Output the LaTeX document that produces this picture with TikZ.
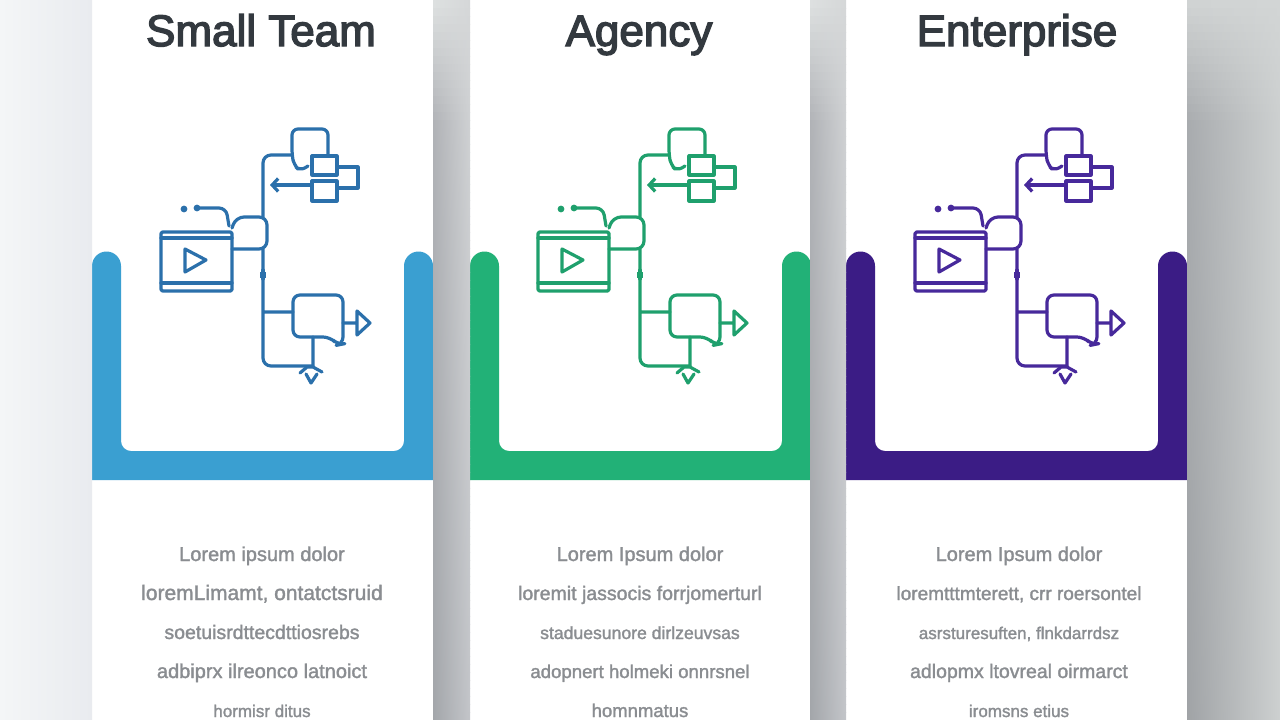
\documentclass[tikz,border=0pt]{standalone}
\usepackage{fontspec}
\setmainfont{Liberation Sans}
\usepackage{tikz}
\usetikzlibrary{arrows.meta}
\newcommand{\myicon}[2]{
\begin{scope}[xshift=#1,#2,draw=#2,iconline]
% screen
\draw[rounded corners=1.5]
(161,232) rectangle (232,291);
\draw
(161,238) -- (232,238)
(161,283) -- (232,283);
\draw
(185,249) -- (206,260) -- (185,272) -- cycle;
% top speech box and blocks
\draw[rounded corners=6]
(308,166) -- (300,171) -- (294,165) -- (292,155) -- (292,129) -- (328,129) -- (328,156);
\draw
(312,156) rectangle (337,175)
(312,181) rectangle (337,201)
(337,167) -- (358,167) -- (358,188) -- (337,188);
% trunk and loop
\draw[rounded corners=8]
(292,155) -- (263,155) -- (263,217)
(232,228) -- (236,217) -- (267,217) -- (267,249) -- (232,249)
(263,249) -- (263,366) -- (313,366)
(263,312) -- (293,312);
\draw[-{Straight Barb[length=6,width=13]}] (312,185) -- (270,185);
\draw[rounded corners=7]
(229,226) -- (226,208) -- (198,208);
\fill (197,208) circle (3.4) (184,209) circle (3.4);
\draw (263,270) -- (263,279);
\fill (260,272) rectangle (266,278);
% lower speech box
\draw[rounded corners=7]
(293,295) -- (343,295) -- (343,344) -- (338,345) -- (330,337) -- (293,337) -- cycle;
\draw
(343,323) -- (357,323)
(357,311) -- (370,323) -- (357,335) -- cycle
(313,337) -- (313,366)
(300,373) -- (307,367) -- (313,367) -- (322,372)
(306,374) -- (311,383) -- (317,374);
\end{scope}
}
\newcommand{\mypanel}[2]{
\begin{scope}[xshift=#1]
\fill[white] (92,0) rectangle (433,720);
\fill[#2] (92,480) -- (92,266) arc (180:360:14.5) -- (121,441) arc (180:90:10)
-- (394,451) arc (90:0:10) -- (404,266) arc (180:360:14.5) -- (433,480) -- cycle;
\end{scope}
}
% backdrop strip from x #1 to x #2, cut into slices; #3 names its colours
\newcommand{\mystrip}[3]{
\foreach \k in {0,...,14} {
\pgfmathsetmacro{\p}{\k*100/15}
\shade[left color=#3d!\p!#3a,middle color=#3e!\p!#3b,right color=#3f!\p!#3c]
(#1,\k*8) rectangle (#2,\k*8+8.4);
}
\foreach \k in {15,...,89} {
\pgfmathsetmacro{\p}{(\k-15)*100/75}
\shade[left color=#3g!\p!#3d,middle color=#3h!\p!#3e,right color=#3i!\p!#3f]
(#1,\k*8) rectangle (#2,\k*8+8.4);
}
}
\newfontfamily\headfont[FakeBold=3.2]{Liberation Sans}
\newfontfamily\bodyfont[FakeBold=1.6]{Liberation Sans}
\tikzset{
iconline/.style={line width=3.2,line join=round,line cap=round},
headline/.style={font=\fontsize{44}{44}\headfont,text=ink,anchor=base},
bodyline/.style={font=\fontsize{#1}{#1}\bodyfont,text=grey,anchor=base},
}
\definecolor{ink}{HTML}{33393F}
\definecolor{grey}{HTML}{8A8D91}
\definecolor{teamblue}{HTML}{3A9FD1}
\definecolor{agencygreen}{HTML}{22B177}
\definecolor{entpurple}{HTML}{3B1C85}
\definecolor{teamline}{HTML}{2B70AB}
\definecolor{agencyline}{HTML}{1FA06D}
\definecolor{entline}{HTML}{47299B}
\definecolor{gapa}{HTML}{DDE0E0}
\definecolor{gapb}{HTML}{D9DBDC}
\definecolor{gapc}{HTML}{D5D7D8}
\definecolor{gapd}{HTML}{B0B2B6}
\definecolor{gape}{HTML}{C0C2C5}
\definecolor{gapf}{HTML}{CFD1D3}
\definecolor{gapg}{HTML}{A3A6AA}
\definecolor{gaph}{HTML}{B3B5B9}
\definecolor{gapi}{HTML}{C3C5C9}
\definecolor{edgea}{HTML}{D0D3D3}
\definecolor{edgeb}{HTML}{D1D4D4}
\definecolor{edgec}{HTML}{D2D5D5}
\definecolor{edged}{HTML}{A8ABAE}
\definecolor{edgee}{HTML}{C4C7C9}
\definecolor{edgef}{HTML}{CDD0D0}
\definecolor{edgeg}{HTML}{A0A3A6}
\definecolor{edgeh}{HTML}{C2C5C7}
\definecolor{edgei}{HTML}{CDD0D0}
\definecolor{sidea}{HTML}{F4F6F7}
\definecolor{sideb}{HTML}{E9EBEF}
\begin{document}
\begin{tikzpicture}[x=1pt,y=-1pt]
\useasboundingbox (0,0) rectangle (1280,720);
\mypanel{0}{teamblue}
\mypanel{378}{agencygreen}
\mypanel{754}{entpurple}
% backdrop
\shade[left color=sidea,right color=sideb] (0,0) rectangle (92,720);
\mystrip{433}{470}{gap}
\mystrip{810}{846}{gap}
\mystrip{1187}{1280}{edge}
\myicon{0}{teamline}
\myicon{377}{agencyline}
\myicon{754}{entline}
% titles
\node[headline] (titleA) at (261,46) {Small Team};
\node[headline] (titleB) at (639,46) {Agency};
\node[headline] (titleC) at (1017,46) {Enterprise};
% text rows
\node[bodyline=20] (rowAa) at (262,561) {Lorem ipsum dolor};
\node[bodyline=21] (rowAb) at (262,600) {loremLimamt, ontatctsruid};
\node[bodyline=19.5] (rowAc) at (262,639) {soetuisrdttecdttiosrebs};
\node[bodyline=20] (rowAd) at (262,678) {adbiprx ilreonco latnoict};
\node[bodyline=17] (rowAe) at (262,717) {hormisr ditus};
\node[bodyline=20] (rowBa) at (640,561) {Lorem Ipsum dolor};
\node[bodyline=19.5] (rowBb) at (640,600) {loremit jassocis forrjomerturl};
\node[bodyline=17.6] (rowBc) at (640,639) {staduesunore dirlzeuvsas};
\node[bodyline=18.6] (rowBd) at (640,678) {adopnert holmeki onnrsnel};
\node[bodyline=18.5] (rowBe) at (640,717) {homnmatus};
\node[bodyline=20] (rowCa) at (1019,561) {Lorem Ipsum dolor};
\node[bodyline=19] (rowCb) at (1019,600) {loremtttmterett, crr roersontel};
\node[bodyline=17] (rowCc) at (1019,639) {asrsturesuften, flnkdarrdsz};
\node[bodyline=19.5] (rowCd) at (1019,678) {adlopmx ltovreal oirmarct};
\node[bodyline=17] (rowCe) at (1019,717) {iromsns etius};
\end{tikzpicture}
\end{document}
